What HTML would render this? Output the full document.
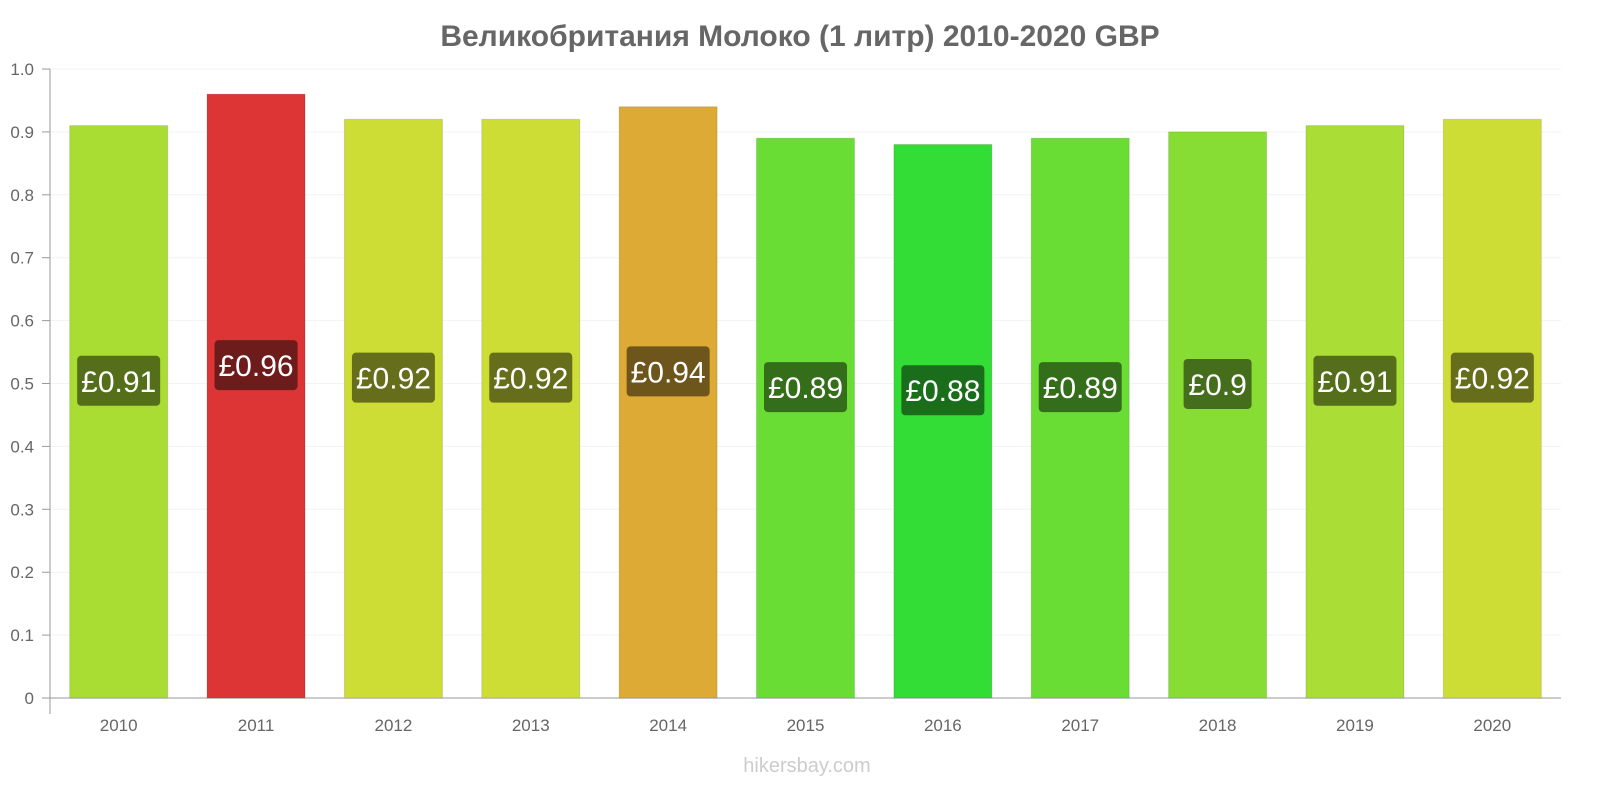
<!DOCTYPE html>
<html><head><meta charset="utf-8"><style>
body{margin:0;background:#fff;font-family:"Liberation Sans","DejaVu Sans",sans-serif;}
svg text{font-family:"Liberation Sans","DejaVu Sans",sans-serif;}
</style></head><body>
<svg id="chart" width="1600" height="800" viewBox="0 0 1600 800" xmlns="http://www.w3.org/2000/svg">
<text x="800" y="46" text-anchor="middle" font-size="30" font-weight="bold" fill="#666">Великобритания Молоко (1 литр) 2010-2020 GBP</text>
<g id="grid"></g><g id="bars"></g><g id="labels"></g>
<text x="807" y="772" text-anchor="middle" font-size="20" fill="#ccc">hikersbay.com</text>
</svg>
<script>
const categories=["2010","2011","2012","2013","2014","2015","2016","2017","2018","2019","2020"];
const values=[0.91,0.96,0.92,0.92,0.94,0.89,0.88,0.89,0.9,0.91,0.92];
const colors=["#aadd33","#dd3535","#cddd35","#cddd35","#ddaa35","#6add35","#33dd35","#6add35","#88dd35","#aadd35","#cddd35"];
const labelColors=["#556e1a","#6e1b1b","#676e1b","#676e1b","#6e551b","#356e1b","#1a6e1b","#356e1b","#446e1b","#556e1b","#676e1b"];
const yTicks=[0,0.1,0.2,0.3,0.4,0.5,0.6,0.7,0.8,0.9,1.0];
const tickLabels=["0","0.1","0.2","0.3","0.4","0.5","0.6","0.7","0.8","0.9","1.0"];
const NS="http://www.w3.org/2000/svg";
const x0=50,x1=1561,y0=698,y1=69;
const band=(x1-x0)/categories.length;
function y(v){return y0-(v/1.0)*(y0-y1);}
function xc(i){return x0+band*(i+0.5);}
function mk(t,a,p){const e=document.createElementNS(NS,t);for(const k in a)e.setAttribute(k,a[k]);p.appendChild(e);return e;}
const g=document.getElementById('grid'),b=document.getElementById('bars'),l=document.getElementById('labels');
yTicks.forEach((t,i)=>{
 const ln=mk('line',{x1:x0,x2:x1,y1:y(t),y2:y(t),stroke:i===0?'#999':'#f3f3f3'},g);
 
 
 const tk=mk('line',{x1:x0-8,x2:x0,y1:y(t),y2:y(t),stroke:'#999'},g);
 
 
 const tx=mk('text',{x:x0-16,y:y(t)+6,'text-anchor':'end','font-size':17,fill:'#666'},g);
 tx.textContent=tickLabels[i];
 
 
});
const ax=mk('line',{x1:x0,x2:x0,y1:y1,y2:y0+16,stroke:'#999'},g);


categories.forEach((c,i)=>{
 const w=98,cx=xc(i);
 const r=mk('rect',{x:cx-w/2,y:y(values[i]),width:w,height:y0-y(values[i]),fill:colors[i],stroke:'rgba(0,0,0,0.12)'},b);
 
 
 const xt=mk('text',{x:cx,y:731,'text-anchor':'middle','font-size':17,fill:'#666'},g);
 xt.textContent=c;
 
 
 const txt='£'+values[i];
 const ly=y(values[i]/2)-31;
 const bw=txt.length*15+8;
 const br=mk('rect',{x:cx-bw/2,y:ly-25,width:bw,height:50,rx:4,fill:labelColors[i]},l);
 
 
 const lt=mk('text',{x:cx,y:ly+11,'text-anchor':'middle','font-size':30,fill:'#fff'},l);
 lt.textContent=txt;
 
 
});
</script>
</body></html>
